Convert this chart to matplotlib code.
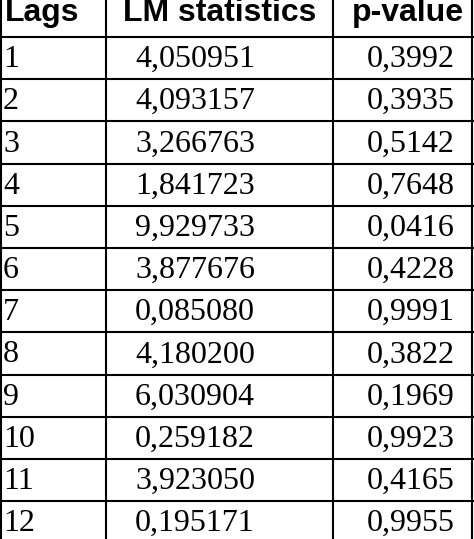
import matplotlib.pyplot as plt

headers = ['Lags', 'LM statistics', 'p-value']
lags = ['1', '2', '3', '4', '5', '6', '7', '8', '9', '10', '11', '12']
lm_stats = ['4,050951', '4,093157', '3,266763', '1,841723', '9,929733', '3,877676',
            '0,085080', '4,180200', '6,030904', '0,259182', '3,923050', '0,195171']
p_values = ['0,3992', '0,3935', '0,5142', '0,7648', '0,0416', '0,4228',
            '0,9991', '0,3822', '0,1969', '0,9923', '0,4165', '0,9955']

W, H = 474, 539
fig = plt.figure(figsize=(W / 100, H / 100), dpi=100)
ax = fig.add_axes([0, 0, 1, 1])
ax.set_xlim(0, W)
ax.set_ylim(H, 0)
ax.axis('off')

vlines = [1, 106, 333, 472]
header_bottom = 37
pitch = 42.2

# grid lines
for x in vlines:
    ax.plot([x, x], [0, H], color='black', lw=1.5)
ax.plot([0, W], [header_bottom, header_bottom], color='black', lw=1.5)
for i in range(1, len(lags) + 1):
    y = header_bottom + i * pitch
    ax.plot([0, W], [y, y], color='black', lw=1.5)

# header (clipped at top)
hy = 13
hfont = dict(ha='center', va='center', fontsize=23, fontweight='bold', family='Liberation Sans')
ax.text(42, hy, headers[0], **hfont)
ax.text(220, hy, headers[1], **hfont)
ax.text(408, hy, headers[2], **hfont)

for i in range(len(lags)):
    y = header_bottom + (i + 0.5) * pitch + 1.5
    ax.text(3, y, lags[i], ha='left', va='center', fontsize=23, family='Liberation Serif')
    ax.text(195, y, lm_stats[i], ha='center', va='center', fontsize=23, family='Liberation Serif')
    ax.text(411, y, p_values[i], ha='center', va='center', fontsize=23, family='Liberation Serif')

fig.savefig('out.png', dpi=100)
